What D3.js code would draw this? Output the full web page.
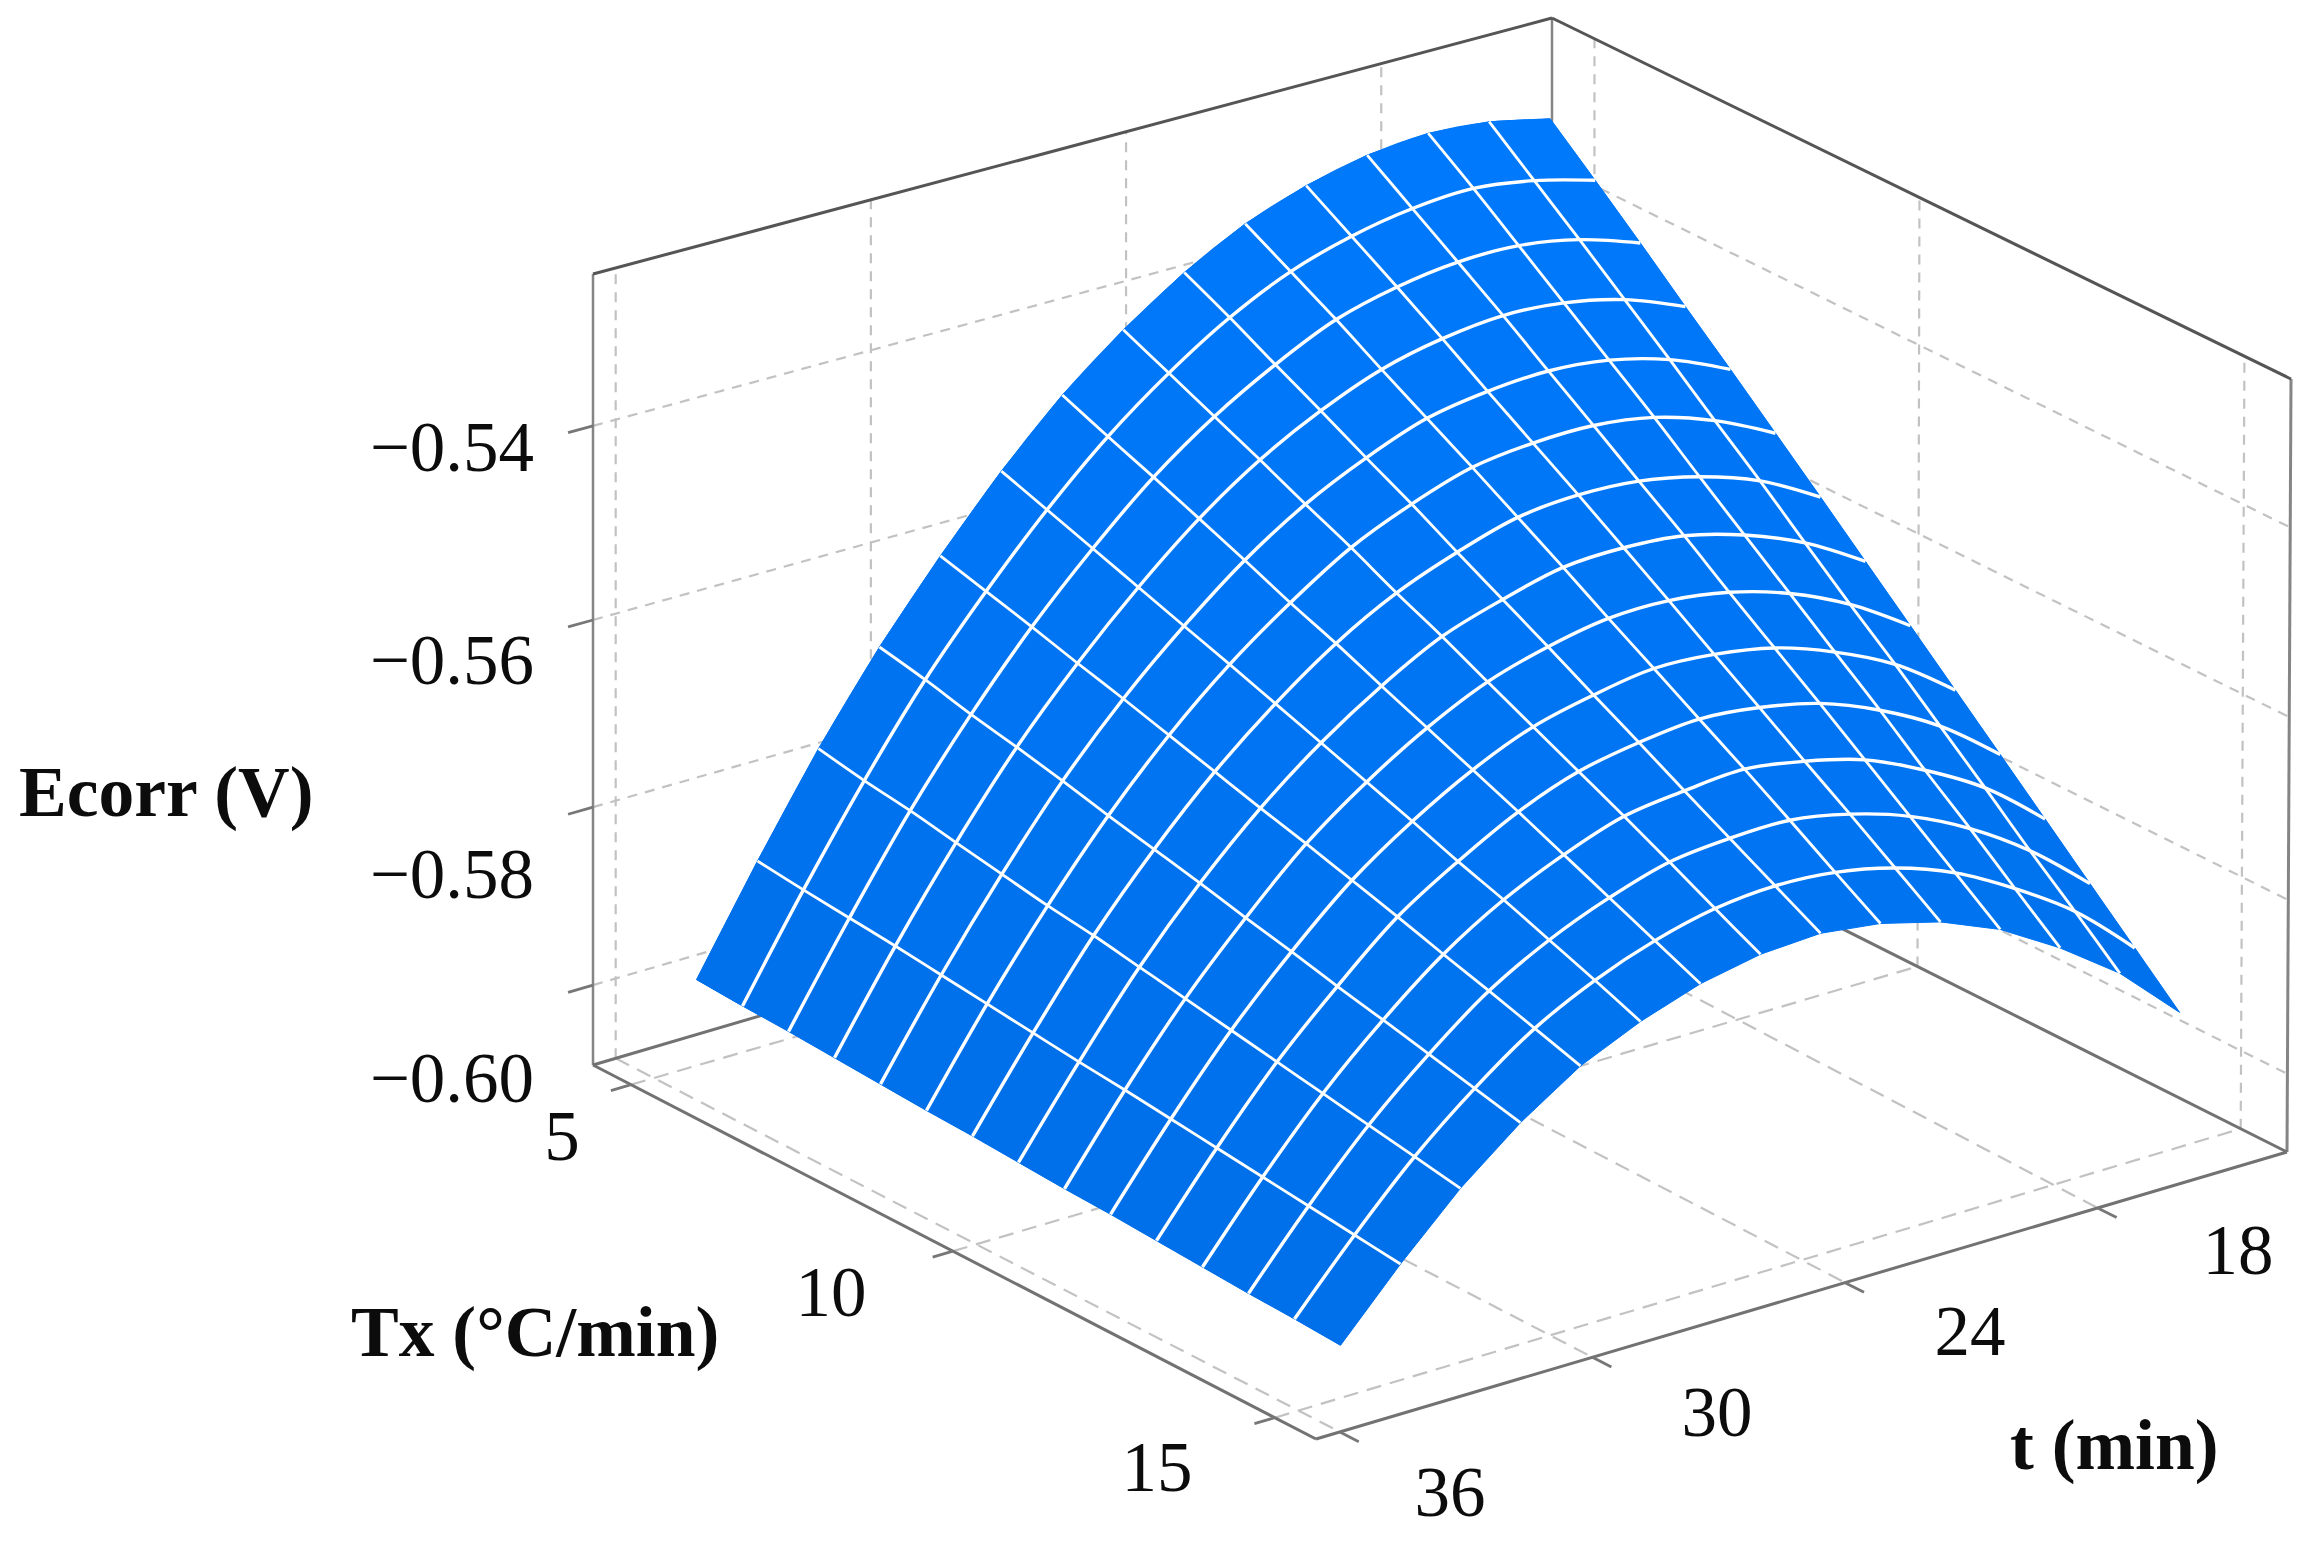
<!DOCTYPE html>
<html>
<head>
<meta charset="utf-8">
<title>Ecorr response surface</title>
<script src="https://cdn.jsdelivr.net/npm/d3@7/dist/d3.min.js"></script>
<style>
  html, body { margin: 0; padding: 0; background: #fff; }
  svg { display: block; }
  text { font-family: "Liberation Serif", "Times New Roman", serif; fill: #0c0c0c; }
</style>
</head>
<body>
<svg id="chart" width="2323" height="1541"></svg>
<script>
// Axis ticks
const txTicks = [5, 10, 15];
const tTicks = [36, 30, 24, 18];
const ecorrTicks = [-0.60, -0.58, -0.56, -0.54];

// Surface sampling positions
const txGrid = [5, 5.714, 6.429, 7.143, 7.857, 8.571, 9.286, 10, 10.714, 11.429, 12.143, 12.857, 13.571, 14.286, 15];
const tGrid = [35, 33.571, 32.143, 30.714, 29.286, 27.857, 26.429, 25, 23.571, 22.143, 20.714, 19.286, 17.857, 16.429, 15];

// Ecorr (V): one row per tGrid entry, one column per txGrid entry
const ecorrRows = [
  [-.5993,-.5996,-.5998,-.6001,-.6004,-.6007,-.6009,-.6012,-.6015,-.6017,-.6020,-.6023,-.6026,-.6028,-.6031],
  [-.5879,-.5885,-.5890,-.5895,-.5901,-.5907,-.5913,-.5919,-.5924,-.5930,-.5936,-.5942,-.5948,-.5954,-.5960],
  [-.5773,-.5782,-.5789,-.5798,-.5807,-.5816,-.5823,-.5832,-.5841,-.5850,-.5859,-.5868,-.5877,-.5886,-.5895],
  [-.5682,-.5692,-.5704,-.5714,-.5725,-.5737,-.5748,-.5759,-.5771,-.5782,-.5794,-.5805,-.5817,-.5829,-.5841],
  [-.5602,-.5615,-.5628,-.5642,-.5655,-.5669,-.5683,-.5697,-.5710,-.5724,-.5738,-.5753,-.5767,-.5782,-.5797],
  [-.5531,-.5547,-.5563,-.5579,-.5595,-.5611,-.5628,-.5645,-.5662,-.5679,-.5697,-.5713,-.5731,-.5749,-.5768],
  [-.5469,-.5488,-.5506,-.5525,-.5544,-.5564,-.5582,-.5602,-.5622,-.5642,-.5662,-.5683,-.5704,-.5725,-.5746],
  [-.5418,-.5439,-.5460,-.5481,-.5503,-.5524,-.5547,-.5568,-.5591,-.5614,-.5637,-.5660,-.5684,-.5709,-.5733],
  [-.5375,-.5398,-.5423,-.5447,-.5472,-.5496,-.5522,-.5547,-.5572,-.5598,-.5624,-.5651,-.5677,-.5703,-.5729],
  [-.5341,-.5367,-.5393,-.5421,-.5448,-.5475,-.5503,-.5531,-.5560,-.5588,-.5617,-.5646,-.5676,-.5707,-.5737],
  [-.5318,-.5347,-.5376,-.5406,-.5437,-.5467,-.5497,-.5528,-.5559,-.5591,-.5623,-.5656,-.5688,-.5721,-.5754],
  [-.5303,-.5335,-.5367,-.5399,-.5433,-.5466,-.5500,-.5533,-.5568,-.5602,-.5637,-.5673,-.5709,-.5745,-.5781],
  [-.5297,-.5331,-.5367,-.5403,-.5439,-.5475,-.5513,-.5550,-.5587,-.5625,-.5663,-.5703,-.5741,-.5781,-.5821],
  [-.5302,-.5340,-.5378,-.5417,-.5456,-.5496,-.5535,-.5576,-.5617,-.5657,-.5699,-.5741,-.5784,-.5826,-.5870],
  [-.5316,-.5357,-.5399,-.5442,-.5484,-.5527,-.5570,-.5614,-.5659,-.5704,-.5749,-.5794,-.5841,-.5888,-.5935]
];

// Data values to unit-cube coordinates. The two horizontal axes foreshorten a
// little with depth, so each has one scale per end of the cube.
const txNear = d3.scaleLinear().domain([5, 15]).range([0.0526, 0.943]);
const txFar = d3.scaleLinear().domain([5, 15]).range([0.0575, 0.937]);
const tBack = d3.scaleLinear().domain([35, 15]).range([0.068, 0.955]);
const tFront = d3.scaleLinear().domain([35, 15]).range([0.068, 0.935]);
const ecorrScale = d3.scaleLinear().domain(ecorrTicks).range([0.101, 0.326, 0.5626, 0.808]);

const sAt = (t, u) => tBack(t) + (tFront(t) - tBack(t)) * u;
const uAt = (tx, s) => txNear(tx) + (txFar(tx) - txNear(tx)) * s;

// Screen position of the eight cube corners; a point is blended between them
const floorC = { L: [593, 1065], F: [1316, 1439], R: [2287, 1152], B: [1552, 783] };
const roofC = { L: [593, 274], F: [1316, 640], R: [2291, 379], B: [1552, 18] };

function blend(c, u, s) {
  return [0, 1].map(k =>
    (1 - u) * (1 - s) * c.L[k] + u * (1 - s) * c.F[k] + u * s * c.R[k] + (1 - u) * s * c.B[k]);
}
function project(u, s, w) {
  const a = blend(floorC, u, s), b = blend(roofC, u, s);
  return [a[0] + (b[0] - a[0]) * w, a[1] + (b[1] - a[1]) * w];
}
function projectData(tx, t, e) {
  const s = sAt(t, txNear(tx));
  return project(uAt(tx, s), s, ecorrScale(e));
}

const svg = d3.select("#chart");
const straight = d3.line();
const smooth = d3.line().curve(d3.curveCatmullRom.alpha(0.5));

// Dashed reference lines on the floor and the two back walls
const gridLines = [];
tTicks.forEach(t => {
  gridLines.push({ kind: "floor", pts: [project(0, tBack(t), 0), project(1, tFront(t), 0)] });
  gridLines.push({ kind: "wall", pts: [project(0, tBack(t), 0), project(0, tBack(t), 1)] });
});
txTicks.forEach(tx => {
  gridLines.push({ kind: "floor", pts: [project(txNear(tx), 0, 0), project(txFar(tx), 1, 0)] });
  gridLines.push({ kind: "wall", pts: [project(txFar(tx), 1, 0), project(txFar(tx), 1, 1)] });
});
ecorrTicks.forEach(e => {
  const w = ecorrScale(e);
  gridLines.push({ kind: "wall", pts: [project(0, 0, w), project(0, 1, w)] });
  gridLines.push({ kind: "wall", pts: [project(0, 1, w), project(1, 1, w)] });
});
svg.append("g").selectAll("path").data(gridLines).join("path")
  .attr("d", d => straight(d.pts))
  .attr("fill", "none")
  .attr("stroke", "#c2c2c2")
  .attr("stroke-width", 2.2)
  .attr("stroke-dasharray", d => d.kind === "floor" ? "15 9" : "10 8");

// Cube frame
const frame = [
  { a: [0, 0, 0], b: [0, 0, 1], c: "#858585", w: 2.5 },
  { a: [0, 1, 0], b: [0, 1, 1], c: "#858585", w: 2.5 },
  { a: [1, 1, 0], b: [1, 1, 1], c: "#858585", w: 3 },
  { a: [0, 0, 1], b: [0, 1, 1], c: "#555", w: 3 },
  { a: [0, 1, 1], b: [1, 1, 1], c: "#555", w: 3 },
  { a: [0, 0, 0], b: [1, 0, 0], c: "#727272", w: 3 },
  { a: [1, 0, 0], b: [1, 1, 0], c: "#727272", w: 3 },
  { a: [0, 0, 0], b: [0, 1, 0], c: "#727272", w: 3 },
  { a: [0, 1, 0], b: [1, 1, 0], c: "#727272", w: 3 }
];
svg.append("g").selectAll("path").data(frame).join("path")
  .attr("d", d => straight([project(...d.a), project(...d.b)]))
  .attr("fill", "none")
  .attr("stroke", d => d.c)
  .attr("stroke-width", d => d.w);

// Tick marks
const tickMarks = [
  ...txTicks.map(v => [project(txNear(v), 0, 0), project(txNear(v), -0.021, 0)]),
  ...tTicks.map(v => [project(1, tFront(v), 0), project(1.026, tFront(v), 0)]),
  ...ecorrTicks.map(v => [project(0, 0, ecorrScale(v)), project(0, -0.026, ecorrScale(v))])
];
svg.append("g").selectAll("path").data(tickMarks).join("path")
  .attr("d", d => straight(d))
  .attr("stroke", "#777")
  .attr("stroke-width", 2.8);

// Surface nodes on screen: nodes[row][col]
const nodes = tGrid.map((t, i) => txGrid.map((tx, j) => projectData(tx, t, ecorrRows[i][j])));
const rowLine = i => nodes[i];
const colLine = j => nodes.map(r => r[j]);

const surface = svg.append("g");

// Outline of the whole sheet, with curved sides
const nR = tGrid.length - 1, nC = txGrid.length - 1;
const side = p => smooth(p).slice(1);
const outline = "M" + side(rowLine(0)) + "L" + side(colLine(nC)) +
  "L" + side(rowLine(nR).slice().reverse()) + "L" + side(colLine(0).slice().reverse()) + "Z";
surface.append("path").attr("d", outline).attr("fill", "#0074f2");

// Cells, shaded slightly by height, painted from the back corner forward
const shade = d3.scaleLinear().domain([-0.605, -0.53]).range(["#006fe8", "#0079fc"]);
const cells = [];
d3.range(nR).forEach(i => d3.range(nC).forEach(j => {
  cells.push({
    order: j - i,
    e: (ecorrRows[i][j] + ecorrRows[i + 1][j] + ecorrRows[i][j + 1] + ecorrRows[i + 1][j + 1]) / 4,
    pts: [nodes[i][j], nodes[i][j + 1], nodes[i + 1][j + 1], nodes[i + 1][j]]
  });
}));
cells.sort((a, b) => a.order - b.order);
surface.append("g").selectAll("path").data(cells).join("path")
  .attr("d", d => straight(d.pts) + "Z")
  .attr("fill", d => shade(d.e))
  .attr("stroke", d => shade(d.e))
  .attr("stroke-width", 1);

// White mesh lines on the inner nodes only
const mesh = surface.append("g").attr("fill", "none").attr("stroke", "#fff").attr("stroke-linecap", "butt");
d3.range(1, nR).forEach(i => mesh.append("path").attr("d", smooth(rowLine(i))).attr("stroke-width", 2.8));
d3.range(1, nC).forEach(j => mesh.append("path").attr("d", smooth(colLine(j))).attr("stroke-width", 3.4));

// Tick labels
const labelSize = 71;
const eBaseline = d3.scaleLinear().domain(ecorrTicks).range([1102, 898, 684, 471]);
svg.append("g").selectAll("text").data(ecorrTicks).join("text")
  .attr("x", 534).attr("y", d => eBaseline(d))
  .attr("text-anchor", "end").attr("font-size", labelSize)
  .text(d => "\u2212" + Math.abs(d).toFixed(2));

const txLabelX = d3.scaleLinear().domain(txTicks).range([562, 831, 1157]);
const txLabelY = d3.scaleLinear().domain(txTicks).range([1160, 1316, 1491]);
svg.append("g").selectAll("text").data(txTicks).join("text")
  .attr("x", d => txLabelX(d)).attr("y", d => txLabelY(d))
  .attr("text-anchor", "middle").attr("font-size", labelSize).text(d => d);

const tLabelX = d3.scaleLinear().domain(tTicks).range([1450, 1717, 1970, 2238]);
const tLabelY = d3.scaleLinear().domain(tTicks).range([1516, 1436, 1355, 1274]);
svg.append("g").selectAll("text").data(tTicks).join("text")
  .attr("x", d => tLabelX(d)).attr("y", d => tLabelY(d))
  .attr("text-anchor", "middle").attr("font-size", labelSize).text(d => d);

// Axis titles
const titles = [
  { text: "Ecorr (V)", x: 19, y: 816 },
  { text: "Tx (\u00B0C/min)", x: 351, y: 1356 },
  { text: "t (min)", x: 2010, y: 1469 }
];
svg.append("g").selectAll("text").data(titles).join("text")
  .attr("x", d => d.x).attr("y", d => d.y)
  .attr("font-size", 71.5).attr("font-weight", "bold")
  .text(d => d.text);
</script>
</body>
</html>
